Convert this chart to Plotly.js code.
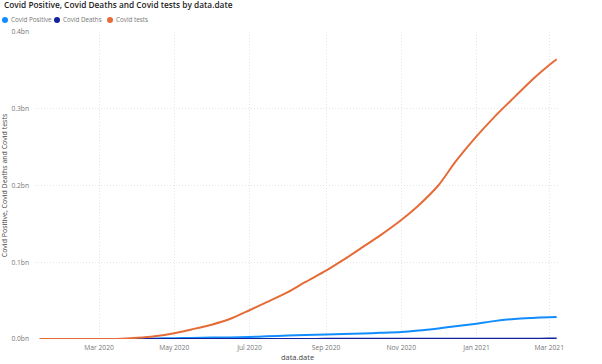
<!DOCTYPE html>
<html>
<head>
<meta charset="utf-8">
<script src="https://cdn.plot.ly/plotly-3.0.1.min.js"></script>
<style>
  html, body { margin: 0; padding: 0; background: #ffffff; }
  #chart { width: 602px; height: 364px; }
</style>
</head>
<body>
<div id="chart"></div>
<script>
// ---- data ----
const dates = [
  "2020-01-13", "2020-02-01", "2020-03-01", "2020-03-15", "2020-04-01", "2020-04-15",
  "2020-05-01", "2020-05-15", "2020-06-01", "2020-06-15", "2020-07-01", "2020-07-15",
  "2020-08-01", "2020-08-15", "2020-09-01", "2020-09-15", "2020-10-01", "2020-10-15",
  "2020-11-01", "2020-11-15", "2020-12-01", "2020-12-15", "2021-01-01", "2021-01-15",
  "2021-02-01", "2021-02-15", "2021-03-01", "2021-03-07"
];
// values in millions
const covidPositiveM = [
  0, 0, 0.00, 0.003, 0.2, 0.6,
  1.1, 1.45, 1.8, 2.1, 2.7, 3.5,
  4.5, 5.3, 6.0, 6.6, 7.3, 8.0,
  9.1, 11.0, 13.8, 16.6, 20.0, 23.3,
  26.2, 27.5, 28.4, 28.7
];
const covidDeathsM = [
  0, 0, 0.00, 0.0001, 0.005, 0.03,
  0.06, 0.08, 0.10, 0.11, 0.12, 0.13,
  0.15, 0.16, 0.175, 0.19, 0.20, 0.21,
  0.225, 0.24, 0.265, 0.295, 0.34, 0.38,
  0.43, 0.47, 0.51, 0.515
];
const covidTestsM = [
  0, 0, 0.01, 0.1, 1.5, 3.5,
  7.5, 12.5, 19, 26, 37.5, 48,
  61, 74, 89, 103, 120, 135,
  155, 174, 200, 231, 264, 288.5,
  315.5, 337.5, 357, 364.5
];
const seriesNames = ["Covid Positive", "Covid Deaths", "Covid tests"];
const seriesColors = ["#118DFF", "#12239E", "#E66C37"];
const yTickVals = [0, 0.1e9, 0.2e9, 0.3e9, 0.4e9];
const yTickText = ["0.0bn", "0.1bn", "0.2bn", "0.3bn", "0.4bn"];
const chartTitle = "Covid Positive, Covid Deaths and Covid tests by data.date";
const xTitle = "data.date";
const yTitle = "Covid Positive, Covid Deaths and Covid tests";

// ---- layout geometry ----
const W = 602, H = 364;
const M = { l: 35, r: 42, t: 32, b: 25 };
const plotW = W - M.l - M.r, plotH = H - M.t - M.b;
const px2x = p => (p - M.l) / plotW;
const px2y = p => (H - M.b - p) / plotH;

const FONT = "'Open Sans', 'Noto Sans', 'DejaVu Sans', sans-serif";
const toAbs = arr => arr.map(v => v * 1e6);
const seriesValues = [toAbs(covidPositiveM), toAbs(covidDeathsM), toAbs(covidTestsM)];

const traces = seriesNames.map((name, i) => ({
  type: "scatter",
  mode: "lines",
  name: name,
  x: dates,
  y: seriesValues[i],
  line: { color: seriesColors[i], width: 2, shape: "spline", smoothing: 0.8 },
  showlegend: false,
  hoverinfo: "x+y+name"
}));

// custom legend (Power BI style: dot + label)
const legendX = [5, 57, 110];
const legendY = 20;
const shapes = [];
const annotations = [];
seriesNames.forEach((name, i) => {
  shapes.push({
    type: "circle", xref: "paper", yref: "paper",
    xsizemode: "pixel", ysizemode: "pixel",
    xanchor: px2x(legendX[i]), yanchor: px2y(legendY),
    x0: -3, x1: 3, y0: -3, y1: 3,
    fillcolor: seriesColors[i], line: { width: 0 }
  });
  annotations.push({
    xref: "paper", yref: "paper",
    x: px2x(legendX[i] + 4), y: px2y(legendY),
    xanchor: "left", yanchor: "middle",
    text: name, showarrow: false,
    font: { family: FONT, size: 6.3, color: "#777777" }
  });
});

const layout = {
  width: W, height: H,
  margin: M,
  paper_bgcolor: "#ffffff",
  plot_bgcolor: "#ffffff",
  showlegend: false,
  title: {
    text: chartTitle,
    xref: "container", yref: "container",
    x: 4 / W, xanchor: "left",
    y: 1 - 2 / H, yanchor: "top",
    font: { family: FONT, size: 8.3, color: "#252423", weight: 600 }
  },
  xaxis: {
    type: "date",
    range: ["2020-01-09 02:00", "2021-03-09 17:00"],
    tick0: "2020-03-01",
    dtick: "M2",
    tickformat: "%b %Y",
    showgrid: true,
    gridcolor: "#e6e6e6",
    griddash: "1px,2px",
    gridwidth: 1,
    zeroline: false,
    showline: false,
    ticks: "",
    ticklabelstandoff: 3,
    tickfont: { family: FONT, size: 6.7, color: "#777777" },
    title: {
      text: xTitle,
      standoff: 4,
      font: { family: FONT, size: 7.5, color: "#444444" }
    },
    fixedrange: true
  },
  yaxis: {
    range: [0, 0.4e9],
    tickvals: yTickVals,
    ticktext: yTickText,
    showgrid: true,
    gridcolor: "#e6e6e6",
    griddash: "1px,2px",
    gridwidth: 1,
    zeroline: false,
    showline: false,
    ticks: "",
    ticklabelstandoff: 5,
    tickfont: { family: FONT, size: 6.7, color: "#777777" },
    title: {
      text: yTitle,
      standoff: 3,
      font: { family: FONT, size: 7, color: "#444444" }
    },
    fixedrange: true
  },
  shapes: shapes,
  annotations: annotations
};

Plotly.newPlot("chart", traces, layout, { displayModeBar: false, staticPlot: true });
</script>
</body>
</html>
